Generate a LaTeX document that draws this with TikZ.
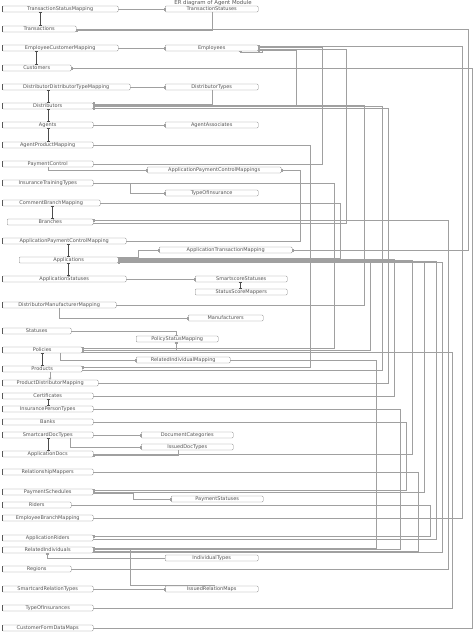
\documentclass[tikz,border=0pt]{standalone}
\usepackage{fontspec}
\setmainfont{DejaVu Sans}
\usetikzlibrary{arrows.meta,calc}
\definecolor{bd}{HTML}{8A8A8A}
\definecolor{tx}{HTML}{555555}
\definecolor{ln}{HTML}{A0A0A0}
\newcommand\busedge[5]{\draw[edge] ([yshift=#2pt]#1.east) -- ([yshift=#2pt]#1.east -| #5,0) -- ([yshift=#4pt]#3.east -| #5,0) -- ([yshift=#4pt]#3.east);}
\begin{document}
\begin{tikzpicture}[x=1pt,y=-1pt,
  box/.style={draw=bd, line width=0.4pt, rounded corners=1pt, inner sep=0pt, minimum height=6pt, anchor=west, font=\fontsize{5}{5.5}\selectfont, text=tx, fill=white},
  edge/.style={draw=ln, line width=0.4pt, -{Bar[width=3pt]Bar[width=3pt]}},
  vedge/.style={draw=black!70, line width=0.45pt, {Bar[width=3pt]}-{Bar[width=3pt]}},
  ledge/.style={draw=ln, line width=0.4pt, -{Bar[width=3pt]Bar[width=3pt]}}]
\useasboundingbox (0,0) rectangle (474,632);
\node[font=\fontsize{5.4}{6}\selectfont, text=tx] (title) at (213,2.6) {ER diagram of Agent Module};
% nodes
\node[box, minimum width=116pt] (TSM) at (2,9) {TransactionStatusMapping};
\node[box, minimum width=93pt] (TS) at (165,9) {TransactionStatuses};
\node[box, minimum width=74pt] (Transaction) at (2,29) {Transactions};
\node[box, minimum width=116pt] (ECM) at (2,48) {EmployeeCustomerMapping};
\node[box, minimum width=93pt] (Employees) at (165,48) {Employees};
\node[box, minimum width=69pt] (Customer) at (2,68) {Customers};
\node[box, minimum width=128pt] (DDTM) at (2,87) {DistributorDistributorTypeMapping};
\node[box, minimum width=93pt] (DT) at (165,87) {DistributorTypes};
\node[box, minimum width=91pt] (Distributors) at (2,106) {Distributors};
\node[box, minimum width=91pt] (Agents) at (2,125) {Agents};
\node[box, minimum width=93pt] (AA) at (165,125) {AgentAssociates};
\node[box, minimum width=91pt] (APM) at (2,145) {AgentProductMapping};
\node[box, minimum width=91pt] (PC) at (2,164) {PaymentControl};
\node[box, minimum width=134pt] (APCMr) at (147,170) {ApplicationPaymentControlMappings};
\node[box, minimum width=91pt] (ITT) at (2,183) {InsuranceTrainingTypes};
\node[box, minimum width=93pt] (TOI) at (165,193) {TypeOfInsurance};
\node[box, minimum width=98pt] (CBM) at (2,203) {CommentBranchMapping};
\node[box, minimum width=86pt] (Branches) at (7,222) {Branches};
\node[box, minimum width=124pt] (APCMl) at (2,241) {ApplicationPaymentControlMapping};
\node[box, minimum width=133pt] (ATM) at (159,250) {ApplicationTransactionMapping};
\node[box, minimum width=99pt] (Applications) at (19,260) {Applications};
\node[box, minimum width=124pt] (AppStat) at (2,279) {ApplicationStatuses};
\node[box, minimum width=92pt] (SS) at (195,279) {SmartscoreStatuses};
\node[box, minimum width=92pt] (SSM) at (195,292) {StatusScoreMappers};
\node[box, minimum width=114pt] (DMM) at (2,305) {DistributorManufacturerMapping};
\node[box, minimum width=75pt] (Manuf) at (188,318) {Manufacturers};
\node[box, minimum width=69pt] (Statuses) at (2,331) {Statuses};
\node[box, minimum width=82pt] (PSM) at (136,339) {PolicyStatusMapping};
\node[box, minimum width=80pt] (Policies) at (2,350) {Policies};
\node[box, minimum width=94pt] (RIM) at (136,360) {RelatedIndividualMapping};
\node[box, minimum width=80pt] (Products) at (2,369) {Products};
\node[box, minimum width=96pt] (PDM) at (2,383) {ProductDistributorMapping};
\node[box, minimum width=91pt] (Cert) at (2,396) {Certificates};
\node[box, minimum width=91pt] (IPT) at (2,409) {InsurancePersonTypes};
\node[box, minimum width=91pt] (Banks) at (2,422) {Banks};
\node[box, minimum width=91pt] (SDT) at (2,435) {SmartcardDocTypes};
\node[box, minimum width=92pt] (DC) at (141,435) {DocumentCategories};
\node[box, minimum width=92pt] (IDT) at (141,447) {IssuedDocTypes};
\node[box, minimum width=91pt] (AppDocs) at (2,454) {ApplicationDocs};
\node[box, minimum width=91pt] (RelMap) at (2,472) {RelationshipMappers};
\node[box, minimum width=91pt] (PaySched) at (2,492) {PaymentSchedules};
\node[box, minimum width=92pt] (PayStat) at (171,499) {PaymentStatuses};
\node[box, minimum width=69pt] (Riders) at (2,505) {Riders};
\node[box, minimum width=91pt] (EBM) at (2,518) {EmployeeBranchMapping};
\node[box, minimum width=91pt] (AppRiders) at (2,538) {ApplicationRiders};
\node[box, minimum width=91pt] (RelInd) at (2,550) {RelatedIndividuals};
\node[box, minimum width=93pt] (IndTypes) at (165,558) {IndividualTypes};
\node[box, minimum width=69pt] (Regions) at (2,569) {Regions};
\node[box, minimum width=91pt] (SRT) at (2,589) {SmartcardRelationTypes};
\node[box, minimum width=93pt] (IRM) at (165,589) {IssuedRelationMaps};
\node[box, minimum width=91pt] (TOIs) at (2,608) {TypeOfInsurances};
\node[box, minimum width=91pt] (CFDM) at (2,628) {CustomerFormDataMaps};
% dark left edges
\foreach \n in {TSM,Transaction,ECM,Customer,DDTM,Distributors,Agents,APM,PC,ITT,CBM,APCMl,AppStat,DMM,Statuses,Policies,Products,PDM,Cert,IPT,Banks,SDT,AppDocs,RelMap,PaySched,Riders,EBM,AppRiders,RelInd,Regions,SRT,TOIs,CFDM}
  \draw[line width=1.3pt, black!65] ([xshift=0.6pt,yshift=-0.3pt]\n.north west) -- ([xshift=0.6pt,yshift=0.3pt]\n.south west);
% local edges
\draw[ledge] (TSM.east) -- (TS.west);
\draw[vedge] (TSM.south -| 40,0) -- (Transaction.north -| 40,0);
\draw[ledge] (TS.south) |- ([yshift=-1.5pt]Transaction.east);
\draw[ledge] (ECM.east) -- (Employees.west);
\draw[vedge] (ECM.south -| 36,0) -- (Customer.north -| 36,0);
\draw[ledge] ([yshift=-1pt]Employees.east) -- ++(4,0) |- (240,52) -- (240,51);
\draw[ledge] (DDTM.east) -- (DT.west);
\draw[vedge] (DDTM.south -| 48,0) -- (Distributors.north -| 48,0);
\draw[ledge] (DT.south) |- ([yshift=2.2pt]Distributors.east);
\draw[vedge] (Distributors.south -| 48,0) -- (Agents.north -| 48,0);
\draw[ledge] (Agents.east) -- (AA.west);
\draw[vedge] (Agents.south -| 48,0) -- (APM.north -| 48,0);
\draw[ledge] (PC.south -| 48,0) |- (APCMr.west);
\draw[ledge] (ITT.east) -- (130,183) |- (TOI.west);
\draw[vedge] (CBM.south -| 52,0) -- (Branches.north -| 52,0);
\draw[vedge] (APCMl.south -| 68,0) -- (Applications.north -| 68,0);
\draw[ledge] ([yshift=2.8pt]Applications.east) -| (138,250) -- (ATM.west);
\draw[vedge] (Applications.south -| 68,0) -- (AppStat.north -| 68,0);
\draw[ledge] (AppStat.east) -- (SS.west);
\draw[vedge] (SS.south -| 240,0) -- (SSM.north -| 240,0);
\draw[ledge] (DMM.south -| 59,0) |- (Manuf.west);
\draw[ledge] (Statuses.east) -| (PSM.north -| 176,0);
\draw[ledge] (Policies.east) -| (PSM.south -| 176,0);
\draw[ledge] (Policies.south -| 60,0) |- (RIM.west);
\draw[vedge] (Policies.south -| 42,0) -- (Products.north -| 42,0);
\draw[draw=ln, line width=0.4pt, -{Triangle[width=3pt,length=2pt]}] (Products.south -| 50,0) -- (PDM.north -| 50,0);
\draw[vedge] (Cert.south -| 48,0) -- (IPT.north -| 48,0);
\draw[ledge] (SDT.east) -- (DC.west);
\draw[vedge] (SDT.south -| 48,0) -- (AppDocs.north -| 48,0);
\draw[ledge] (SDT.south -| 70,0) |- (IDT.west);
\draw[ledge] (IDT.south -| 178,0) |- ([yshift=-1pt]AppDocs.east);
\draw[ledge] ([yshift=-1.5pt]PaySched.east) -| (133,499) -- (PayStat.west);
\draw[ledge] (IndTypes.west) -| (RelInd.south -| 47,0);
\draw[ledge] ([yshift=0.5pt]RelInd.east) -| (130,585) -| (IRM.north -| 213,0);
\draw[ledge] (SRT.east) -- (IRM.west);
% long bus edges
\busedge{Transaction}{0}{ATM}{0}{468}
\busedge{CFDM}{0}{Customer}{0}{472}
\busedge{Distributors}{0}{Employees}{-2}{296}
\busedge{PC}{0}{Employees}{0.7}{322}
\busedge{Branches}{-1}{Employees}{-0.7}{346}
\busedge{EBM}{0}{Employees}{2}{462}
\busedge{APM}{0}{Products}{1.5}{310}
\busedge{ITT}{0}{Policies}{1.8}{334}
\busedge{CBM}{0}{Applications}{2}{340}
\busedge{APCMl}{0}{APCMr}{0}{300}
\busedge{DMM}{0}{Distributors}{0.8}{364}
\busedge{Policies}{0}{Applications}{1.3}{370}
\busedge{RIM}{0}{RelInd}{2}{376}
\busedge{Products}{-1}{Distributors}{-0.6}{382}
\busedge{PDM}{0}{Distributors}{-2}{388}
\busedge{Cert}{0}{Applications}{0.6}{394}
\busedge{IPT}{0}{RelInd}{0.7}{400}
\busedge{Banks}{0}{PaySched}{1.5}{406}
\busedge{AppDocs}{0}{Applications}{-0.1}{412}
\busedge{RelMap}{0}{RelInd}{-0.7}{418}
\busedge{PaySched}{0}{Applications}{-0.8}{424}
\busedge{Riders}{0}{AppRiders}{1.5}{430}
\busedge{AppRiders}{-1}{Applications}{-1.5}{436}
\busedge{RelInd}{-2}{Applications}{-2.2}{442}
\busedge{Regions}{0}{Branches}{1.5}{448}
\busedge{TOIs}{0}{Policies}{-1.8}{452}
\end{tikzpicture}
\end{document}
